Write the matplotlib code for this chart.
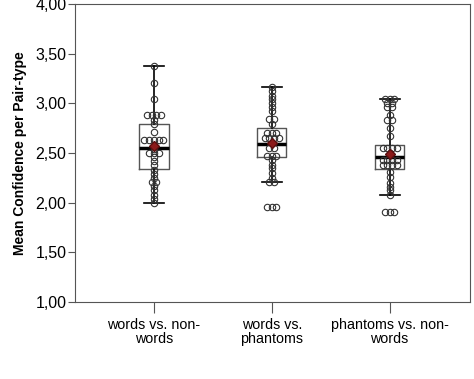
import matplotlib
matplotlib.use("Agg")
import matplotlib.pyplot as plt
import numpy as np

plt.rcParams['font.family'] = ['Liberation Sans', 'DejaVu Sans']

categories = ['words vs. non-\nwords', 'words vs.\nphantoms', 'phantoms vs. non-\nwords']

# individual participant values per pair-type
words_nonwords = [3.38, 3.21, 3.04, 2.88, 2.88, 2.88, 2.88, 2.83, 2.79, 2.71,
                  2.63, 2.63, 2.63, 2.63, 2.63, 2.58, 2.54, 2.50, 2.50, 2.50,
                  2.46, 2.42, 2.38, 2.33, 2.29, 2.25, 2.21, 2.21, 2.17, 2.13,
                  2.08, 2.04, 2.00]
words_phantoms = [3.17, 3.13, 3.08, 3.04, 3.00, 2.96, 2.92, 2.84, 2.84, 2.79,
                  2.70, 2.70, 2.70, 2.65, 2.65, 2.65, 2.65, 2.60, 2.55, 2.55,
                  2.47, 2.47, 2.47, 2.43, 2.38, 2.35, 2.30, 2.25, 2.21, 2.21,
                  1.96, 1.96, 1.96]
phantoms_nonwords = [3.04, 3.04, 3.04, 3.00, 3.00, 2.96, 2.96, 2.88, 2.83, 2.83,
                     2.75, 2.67, 2.55, 2.55, 2.55, 2.55, 2.50, 2.43, 2.43, 2.43,
                     2.43, 2.38, 2.38, 2.38, 2.38, 2.31, 2.26, 2.20, 2.16, 2.13,
                     2.08, 1.91, 1.91, 1.91]
groups = [words_nonwords, words_phantoms, phantoms_nonwords]

# box statistics as shown
q1 = [2.34, 2.46, 2.34]
median = [2.55, 2.59, 2.46]
q3 = [2.79, 2.75, 2.58]
whislo = [2.00, 2.21, 2.08]
whishi = [3.38, 3.17, 3.04]
means = [2.57, 2.60, 2.49]

fig = plt.figure(figsize=(4.74, 3.79), dpi=100)
ax = fig.add_axes([0.158, 0.203, 0.833, 0.786])

pos = np.arange(1, len(categories) + 1)
stats = []
for i in range(len(categories)):
    stats.append({'q1': q1[i], 'med': median[i], 'q3': q3[i],
                  'whislo': whislo[i], 'whishi': whishi[i], 'fliers': []})

ax.bxp(stats, positions=pos, widths=0.25, showfliers=False, capwidths=0.17,
       boxprops=dict(color='#555555', linewidth=1.0),
       whiskerprops=dict(color='black', linewidth=1.2),
       capprops=dict(color='black', linewidth=1.2),
       medianprops=dict(color='black', linewidth=2.5), zorder=2)

# dot plot: equal values spread sideways
dx = 0.04
for i, vals in enumerate(groups):
    uniq, counts = np.unique(vals, return_counts=True)
    for v, c in zip(uniq, counts):
        offs = (np.arange(c) - (c - 1) / 2) * dx
        ax.plot(pos[i] + offs, [v] * c, 'o', ms=4.6, mfc='none', mec='#333333',
                mew=0.8, zorder=3)

ax.plot(pos, means, 'D', ms=5, color='#8b1a1a', mec='#5a0f0f', zorder=4)

ax.set_xlim(0.33, 3.68)
ax.set_ylim(1.0, 4.0)
ax.set_yticks([1.0, 1.5, 2.0, 2.5, 3.0, 3.5, 4.0])
ax.set_yticklabels([f'{t:.2f}'.replace('.', ',') for t in ax.get_yticks()])
ax.set_xticks(pos)
ax.set_xticklabels(categories, fontsize=10.3, linespacing=1.0)
ax.tick_params(axis='y', labelsize=11.5, length=5, pad=1, color='#555555')
ax.tick_params(axis='x', length=8, color='#555555')
for s in ax.spines.values():
    s.set_color('#555555')
ax.set_ylabel('Mean Confidence per Pair-type', fontsize=10, fontweight='bold',
              labelpad=6)

fig.savefig('out.png', dpi=100)
